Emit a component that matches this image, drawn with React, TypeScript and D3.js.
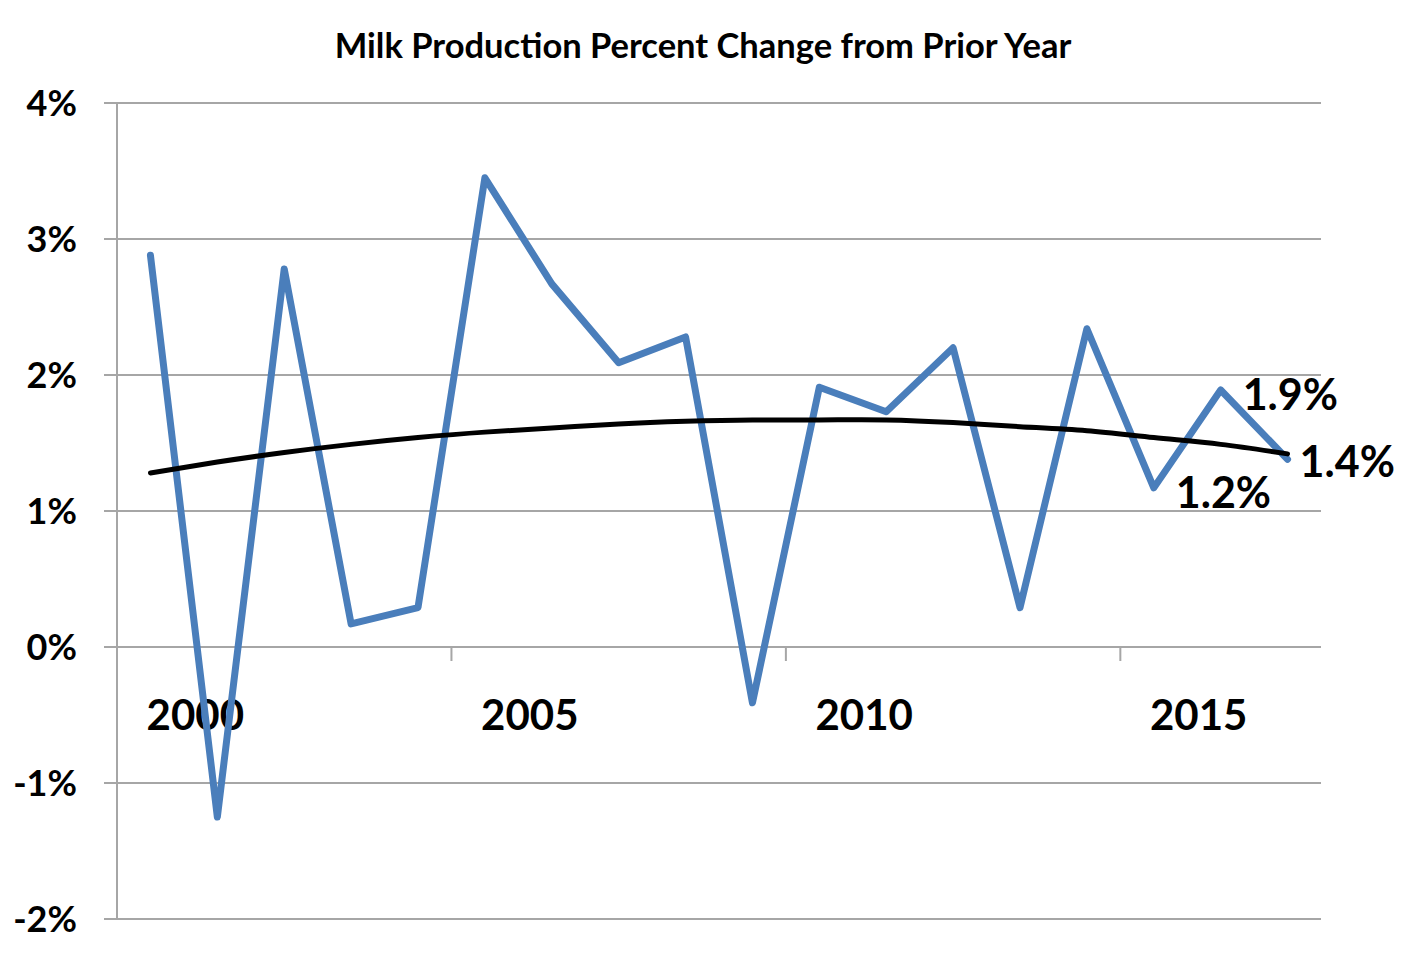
import { useEffect, useRef } from "react";
import * as d3 from "d3";

const years = [ 1999, 2000, 2001, 2002, 2003, 2004, 2005, 2006, 2007, 2008, 2009, 2010, 2011, 2012, 2013, 2014, 2015, 2016 ];
const pctChange = [ 2.88, -1.25, 2.78, 0.17, 0.29, 3.45, 2.67, 2.09, 2.28, -0.41, 1.91, 1.73, 2.2, 0.29, 2.34, 1.17, 1.89, 1.38 ];
const trend = [ 1.28, 1.36, 1.43, 1.49, 1.54, 1.58, 1.61, 1.64, 1.66, 1.67, 1.67, 1.67, 1.65, 1.62, 1.59, 1.54, 1.49, 1.42 ];
const yTicks = [ -2, -1, 0, 1, 2, 3, 4 ];
const xTickLabels = [ 2000, 2005, 2010, 2015 ];
const labeledYears = [ 2014, 2015, 2016 ];

const W = 1406;
const H = 956;
const FONT = "Lato, 'Open Sans', sans-serif";
const BLUE = "#4a7ebb";
const GRID = "#a6a6a6";

export default function App ()
{
    const svgRef = useRef<SVGSVGElement>( null );

    useEffect( () =>
    {
        document.body.style.margin = "0";
        if ( !svgRef.current ) return;
        const svg = d3.select( svgRef.current );
        svg.selectAll( "*" ).remove();

        const m = { top: 103, right: 85, bottom: 37, left: 117 };
        const x = d3.scaleBand<number>().domain( years ).range( [ m.left, W - m.right ] );
        const y = d3.scaleLinear().domain( [ -2, 4 ] ).range( [ H - m.bottom, m.top ] );
        const cx = ( yr: number ) => ( x( yr ) || 0 ) + x.bandwidth() / 2;

        // title
        svg.append( "text" ).attr( "x", 703 ).attr( "y", 58 ).attr( "text-anchor", "middle" )
            .style( "font-family", FONT ).style( "font-weight", 700 ).style( "font-size", "34.5px" )
            .text( "Milk Production Percent Change from Prior Year" );

        // gridlines
        svg.append( "g" ).selectAll( "line" ).data( yTicks ).join( "line" )
            .attr( "x1", m.left - 13 ).attr( "x2", W - m.right )
            .attr( "y1", ( d ) => y( d ) ).attr( "y2", ( d ) => y( d ) )
            .attr( "stroke", GRID ).attr( "stroke-width", 2 );

        // y axis line
        svg.append( "line" ).attr( "x1", m.left ).attr( "x2", m.left ).attr( "y1", y( 4 ) ).attr( "y2", y( -2 ) )
            .attr( "stroke", GRID ).attr( "stroke-width", 2 );

        // y labels
        svg.append( "g" ).selectAll( "text" ).data( yTicks ).join( "text" )
            .attr( "x", 77 ).attr( "y", ( d ) => y( d ) + 13 ).attr( "text-anchor", "end" )
            .style( "font-family", FONT ).style( "font-weight", 700 ).style( "font-size", "36px" )
            .text( ( d ) => `${ d }%` );

        // x ticks every 5 categories
        const tickIdx = [ 0, 5, 10, 15 ];
        svg.append( "g" ).selectAll( "line" ).data( tickIdx ).join( "line" )
            .attr( "x1", ( i ) => x( years[ i ] ) || 0 ).attr( "x2", ( i ) => x( years[ i ] ) || 0 )
            .attr( "y1", y( 0 ) ).attr( "y2", y( 0 ) + 14 )
            .attr( "stroke", GRID ).attr( "stroke-width", 2 );

        // x labels
        svg.append( "g" ).selectAll( "text" ).data( xTickLabels ).join( "text" )
            .attr( "x", ( d ) => cx( d ) - 22 ).attr( "y", y( 0 ) + 83 ).attr( "text-anchor", "middle" )
            .style( "font-family", FONT ).style( "font-weight", 700 ).style( "font-size", "42px" )
            .text( ( d ) => d );

        // data line
        const line = d3.line<number>().x( ( _, i ) => cx( years[ i ] ) ).y( ( d ) => y( d ) );
        svg.append( "path" ).attr( "d", line( pctChange ) || "" )
            .attr( "fill", "none" ).attr( "stroke", BLUE ).attr( "stroke-width", 7 )
            .attr( "stroke-linejoin", "round" ).attr( "stroke-linecap", "round" );

        // trend line
        const tline = d3.line<number>().x( ( _, i ) => cx( years[ i ] ) ).y( ( d ) => y( d ) ).curve( d3.curveNatural );
        svg.append( "path" ).attr( "d", tline( trend ) || "" )
            .attr( "fill", "none" ).attr( "stroke", "#000" ).attr( "stroke-width", 5 )
            .attr( "stroke-linecap", "round" );

        // data labels
        const offsets: Record<number, [ number, number ]> = { 2014: [ 22, 20 ], 2015: [ 22, 20 ], 2016: [ 12, 18 ] };
        const fmt = d3.format( ".1f" );
        svg.append( "g" ).selectAll( "text" ).data( labeledYears ).join( "text" )
            .attr( "x", ( d ) => cx( d ) + offsets[ d ][ 0 ] )
            .attr( "y", ( d ) => y( pctChange[ years.indexOf( d ) ] ) + offsets[ d ][ 1 ] )
            .style( "font-family", FONT ).style( "font-weight", 700 ).style( "font-size", "43px" )
            .text( ( d ) => `${ fmt( pctChange[ years.indexOf( d ) ] ) }%` );
    }, [] );

    return <svg ref={ svgRef } width={ W } height={ H } style={ { display: "block", background: "#fff" } } />;
}
